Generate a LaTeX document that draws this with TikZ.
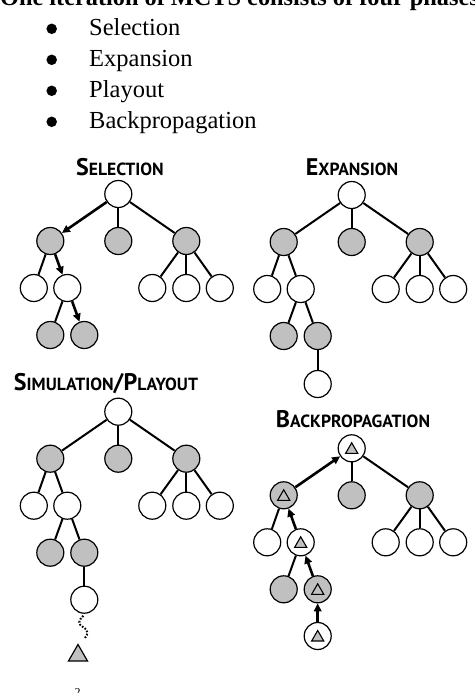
\documentclass[tikz,border=0pt]{standalone}
\usepackage{fontspec}
\setmainfont{Liberation Serif}
\newfontfamily\titlefont{PT Sans}
\usetikzlibrary{arrows.meta,shapes.geometric}
\definecolor{nodegray}{RGB}{192,192,192}
\newcommand\phasetitle[2]{{\titlefont\bfseries{\fontsize{24}{24}\selectfont #1}{\fontsize{17.6}{17.6}\selectfont #2}}}
\tikzset{
  wn/.style={circle,draw=black,line width=1.2pt,fill=white,minimum size=27pt,inner sep=0pt},
  gn/.style={wn,fill=nodegray},
  treeline/.style={line width=2pt},
  backarrow/.style={line width=2.6pt,-{Triangle[length=8pt,width=7.5pt]}},
  mark tri/.style={regular polygon,regular polygon sides=3,draw=black,line width=1.1pt,fill=nodegray,minimum size=14pt,inner sep=0pt},
  big tri/.style={regular polygon,regular polygon sides=3,draw=black,line width=1.2pt,fill=nodegray,minimum size=22pt,inner sep=0pt},
  titletext/.style={anchor=base,inner sep=0pt},
  itemtext/.style={anchor=base west,inner sep=0pt,font=\fontsize{24.5}{24.5}\selectfont},
  bulletdot/.style={circle,fill=black,minimum size=10.5pt,inner sep=0pt}
}
\newcommand\mctstree[2]{%
\begin{scope}[shift={#2}]
\node[wn] (#1r) at (0,0) {};
\node[gn] (#1a) at (-68,47) {};
\node[gn] (#1b) at (0,47) {};
\node[gn] (#1c) at (68,47) {};
\node[wn] (#1d) at (-84.5,94) {};
\node[wn] (#1e) at (-51,94) {};
\node[wn] (#1f) at (34,94) {};
\node[wn] (#1g) at (68,94) {};
\node[wn] (#1h) at (101.5,94) {};
\node[gn] (#1i) at (-68,141) {};
\node[gn] (#1j) at (-34,141) {};
\end{scope}}
\begin{document}
\begin{tikzpicture}[x=1pt,y=-1pt]
\useasboundingbox (0,0) rectangle (474,693);
\clip (0,0) rectangle (474,693);
% heading and list
\node[anchor=base west,inner sep=0pt,font=\bfseries\fontsize{24.3}{24.3}\selectfont] (head) at (0,5.5) {One iteration of MCTS consists of four phases:};
\node[bulletdot] (b1) at (51.7,28.8) {};
\node[bulletdot] (b2) at (51.7,59.8) {};
\node[bulletdot] (b3) at (51.7,90.8) {};
\node[bulletdot] (b4) at (51.7,121.8) {};
\node[itemtext] (i1) at (89,35.5) {Selection};
\node[itemtext] (i2) at (89,66.3) {Expansion};
\node[itemtext] (i3) at (89,97.3) {Playout};
\node[itemtext] (i4) at (89,128.5) {Backpropagation};
% titles
\node[titletext] (t1) at (120,175) {\phasetitle{S}{ELECTION}};
\node[titletext] (t2) at (352,175) {\phasetitle{E}{XPANSION}};
\node[titletext] (t3) at (106,390) {\phasetitle{S}{IMULATION}\phasetitle{/P}{LAYOUT}};
\node[titletext] (t4) at (353,427) {\phasetitle{B}{ACKPROPAGATION}};
% ---------- Selection ----------
\mctstree{s}{(118.3,194)}
\draw[backarrow] (sr) -- (sa);
\draw[treeline] (sr) -- (sb);
\draw[treeline] (sr) -- (sc);
\draw[treeline] (sa) -- (sd);
\draw[backarrow] (sa) -- (se);
\draw[treeline] (sc) -- (sf);
\draw[treeline] (sc) -- (sg);
\draw[treeline] (sc) -- (sh);
\draw[treeline] (se) -- (si);
\draw[backarrow] (se) -- (sj);
% ---------- Expansion ----------
\mctstree{e}{(351.7,195)}
\node[wn] (ek) at (317.7,384) {};
\draw[treeline] (er) -- (ea);
\draw[treeline] (er) -- (eb);
\draw[treeline] (er) -- (ec);
\draw[treeline] (ea) -- (ed);
\draw[treeline] (ea) -- (ee);
\draw[treeline] (ec) -- (ef);
\draw[treeline] (ec) -- (eg);
\draw[treeline] (ec) -- (eh);
\draw[treeline] (ee) -- (ei);
\draw[treeline] (ee) -- (ej);
\draw[treeline] (ej) -- (ek);
% ---------- Simulation ----------
\mctstree{m}{(118.3,411.7)}
\node[wn] (mk) at (84.3,599.7) {};
\node[big tri] (mt) at (78,655.5) {};
\coordinate (mq) at (85,638);
\draw[treeline] (mr) -- (ma);
\draw[treeline] (mr) -- (mb);
\draw[treeline] (mr) -- (mc);
\draw[treeline] (ma) -- (md);
\draw[treeline] (ma) -- (me);
\draw[treeline] (mc) -- (mf);
\draw[treeline] (mc) -- (mg);
\draw[treeline] (mc) -- (mh);
\draw[treeline] (me) -- (mi);
\draw[treeline] (me) -- (mj);
\draw[treeline] (mj) -- (mk);
\draw[line width=2pt,dash pattern=on 1.6pt off 1.6pt] (mk.south) ++(-1,2) .. controls (78,621) and (78,624) .. (83,627) .. controls (89,631) and (88,634) .. (mq);
% ---------- Backpropagation ----------
\mctstree{p}{(351.7,448.3)}
\node[wn] (pk) at (317.7,636) {};
\foreach \n in {pr,pa,pe,pj,pk}{\node[mark tri] (\n t) at ([yshift=-1.5pt]\n.center) {};}
\draw[backarrow] (pa) -- (pr);
\draw[treeline] (pr) -- (pb);
\draw[treeline] (pr) -- (pc);
\draw[treeline] (pa) -- (pd);
\draw[backarrow] (pe) -- (pa);
\draw[treeline] (pc) -- (pf);
\draw[treeline] (pc) -- (pg);
\draw[treeline] (pc) -- (ph);
\draw[treeline] (pe) -- (pi);
\draw[backarrow] (pj) -- (pe);
\draw[backarrow] (pk) -- (pj);
% footnote mark
\node[anchor=base,inner sep=0pt,font=\fontsize{12}{12}\selectfont] (fn) at (77.5,696.2) {2};
\end{tikzpicture}
\end{document}
